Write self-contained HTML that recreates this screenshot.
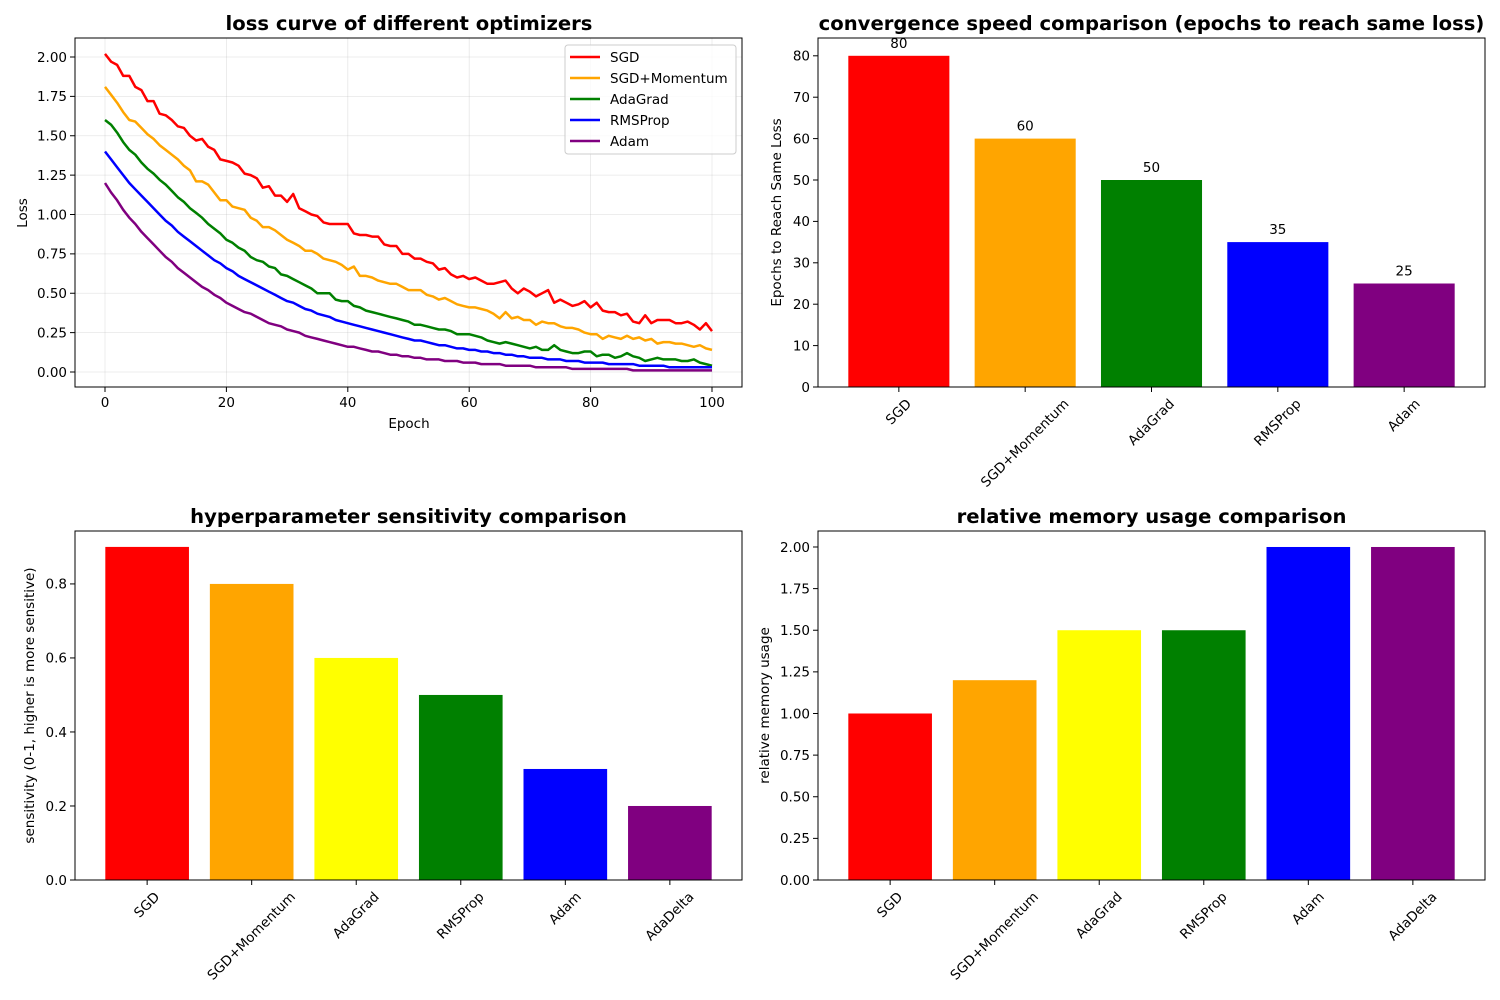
<!DOCTYPE html>
<html><head><meta charset="utf-8"><style>
body{margin:0;background:#fff;}
svg{display:block;font-family:"DejaVu Sans","Liberation Sans",sans-serif;}
</style></head><body>
<svg id="fig" width="1500" height="1000"></svg>
<script>
const lossEpochs = Array.from({length:101},(_, i)=>i);
const lossSGD = [2.02,1.97,1.95,1.88,1.88,1.81,1.79,1.72,1.72,1.64,
1.63,1.60,1.56,1.55,1.50,1.47,1.48,1.43,1.41,1.35,
1.34,1.33,1.31,1.26,1.25,1.23,1.17,1.18,1.12,1.12,
1.08,1.13,1.04,1.02,1.00,0.99,0.95,0.94,0.94,0.94,
0.94,0.88,0.87,0.87,0.86,0.86,0.81,0.80,0.80,0.75,
0.75,0.72,0.72,0.70,0.69,0.65,0.66,0.62,0.60,0.61,
0.59,0.60,0.58,0.56,0.56,0.57,0.58,0.53,0.50,0.53,
0.51,0.48,0.50,0.52,0.44,0.46,0.44,0.42,0.43,0.45,
0.41,0.44,0.39,0.38,0.38,0.36,0.37,0.32,0.31,0.36,
0.31,0.33,0.33,0.33,0.31,0.31,0.32,0.30,0.27,0.31,
0.26];
const lossMomentum = [1.81,1.76,1.71,1.65,1.60,1.59,1.55,1.51,1.48,1.44,
1.41,1.38,1.35,1.31,1.28,1.21,1.21,1.19,1.14,1.09,
1.09,1.05,1.04,1.03,0.98,0.96,0.92,0.92,0.90,0.87,
0.84,0.82,0.80,0.77,0.77,0.75,0.72,0.71,0.70,0.68,
0.65,0.67,0.61,0.61,0.60,0.58,0.57,0.56,0.56,0.54,
0.52,0.52,0.52,0.49,0.48,0.46,0.47,0.45,0.43,0.42,
0.41,0.41,0.40,0.39,0.37,0.34,0.38,0.34,0.35,0.33,
0.33,0.30,0.32,0.31,0.31,0.29,0.28,0.28,0.27,0.25,
0.24,0.24,0.21,0.23,0.22,0.21,0.23,0.21,0.22,0.20,
0.21,0.18,0.19,0.19,0.18,0.18,0.17,0.16,0.17,0.15,
0.14];
const lossAdaGrad = [1.60,1.57,1.52,1.46,1.41,1.38,1.33,1.29,1.26,1.22,
1.19,1.15,1.11,1.08,1.04,1.01,0.98,0.94,0.91,0.88,
0.84,0.82,0.79,0.77,0.73,0.71,0.70,0.67,0.66,0.62,
0.61,0.59,0.57,0.55,0.53,0.50,0.50,0.50,0.46,0.45,
0.45,0.42,0.41,0.39,0.38,0.37,0.36,0.35,0.34,0.33,
0.32,0.30,0.30,0.29,0.28,0.27,0.27,0.26,0.24,0.24,
0.24,0.23,0.22,0.20,0.19,0.18,0.19,0.18,0.17,0.16,
0.15,0.16,0.14,0.14,0.17,0.14,0.13,0.12,0.12,0.13,
0.13,0.10,0.11,0.11,0.09,0.10,0.12,0.10,0.09,0.07,
0.08,0.09,0.08,0.08,0.08,0.07,0.07,0.08,0.06,0.05,
0.04];
const lossRMSProp = [1.40,1.35,1.30,1.25,1.20,1.16,1.12,1.08,1.04,1.00,
0.96,0.93,0.89,0.86,0.83,0.80,0.77,0.74,0.71,0.69,
0.66,0.64,0.61,0.59,0.57,0.55,0.53,0.51,0.49,0.47,
0.45,0.44,0.42,0.40,0.39,0.37,0.36,0.35,0.33,0.32,
0.31,0.30,0.29,0.28,0.27,0.26,0.25,0.24,0.23,0.22,
0.21,0.20,0.20,0.19,0.18,0.17,0.17,0.16,0.15,0.15,
0.14,0.14,0.13,0.13,0.12,0.12,0.11,0.11,0.10,0.10,
0.09,0.09,0.09,0.08,0.08,0.08,0.07,0.07,0.07,0.06,
0.06,0.06,0.06,0.05,0.05,0.05,0.05,0.05,0.04,0.04,
0.04,0.04,0.04,0.03,0.03,0.03,0.03,0.03,0.03,0.03,
0.03];
const lossAdam = [1.20,1.14,1.09,1.03,0.98,0.94,0.89,0.85,0.81,0.77,
0.73,0.70,0.66,0.63,0.60,0.57,0.54,0.52,0.49,0.47,
0.44,0.42,0.40,0.38,0.37,0.35,0.33,0.31,0.30,0.29,
0.27,0.26,0.25,0.23,0.22,0.21,0.20,0.19,0.18,0.17,
0.16,0.16,0.15,0.14,0.13,0.13,0.12,0.11,0.11,0.10,
0.10,0.09,0.09,0.08,0.08,0.08,0.07,0.07,0.07,0.06,
0.06,0.06,0.05,0.05,0.05,0.05,0.04,0.04,0.04,0.04,
0.04,0.03,0.03,0.03,0.03,0.03,0.03,0.02,0.02,0.02,
0.02,0.02,0.02,0.02,0.02,0.02,0.02,0.01,0.01,0.01,
0.01,0.01,0.01,0.01,0.01,0.01,0.01,0.01,0.01,0.01,
0.01];
const lossNames = ["SGD","SGD+Momentum","AdaGrad","RMSProp","Adam"];
const lossColors = ["red","orange","green","blue","purple"];
const lossXTicks = [0,20,40,60,80,100];
const lossYTicks = [0,0.25,0.5,0.75,1,1.25,1.5,1.75,2];

const convCats = ["SGD","SGD+Momentum","AdaGrad","RMSProp","Adam"];
const convValues = [80,60,50,35,25];
const convColors = ["red","orange","green","blue","purple"];
const convYTicks = [0,10,20,30,40,50,60,70,80];

const sensCats = ["SGD","SGD+Momentum","AdaGrad","RMSProp","Adam","AdaDelta"];
const sensValues = [0.9,0.8,0.6,0.5,0.3,0.2];
const sensColors = ["red","orange","yellow","green","blue","purple"];
const sensYTicks = [0,0.2,0.4,0.6,0.8];

const memCats = ["SGD","SGD+Momentum","AdaGrad","RMSProp","Adam","AdaDelta"];
const memValues = [1.0,1.2,1.5,1.5,2.0,2.0];
const memColors = ["red","orange","yellow","green","blue","purple"];
const memYTicks = [0,0.25,0.5,0.75,1,1.25,1.5,1.75,2];

const NS="http://www.w3.org/2000/svg";
const svg=document.getElementById('fig');
function el(tag,attrs,parent,text){const e=document.createElementNS(NS,tag);for(const k in attrs)e.setAttribute(k,attrs[k]);if(text!==undefined)e.textContent=text;(parent||svg).appendChild(e);return e;}
function scale(d0,d1,r0,r1){return v=>r0+(v-d0)/(d1-d0)*(r1-r0);}
const FS=13.5;

function axesFrame(g,L,T,R,B){
  const r=el('rect',{x:L,y:T,width:R-L,height:B-T,fill:'none',stroke:'#000','stroke-width':1},g);
  
  
}
function yTicks(g,ticks,y,L,fmt,grid,R){
  ticks.forEach(t=>{
    const py=y(t);
    if(grid){const gl=el('line',{x1:L,x2:R,y1:py,y2:py,stroke:'#b0b0b0','stroke-opacity':0.3,'stroke-width':0.8},g);}
    el('line',{x1:L-5,x2:L,y1:py,y2:py,stroke:'#000'},g);
    const tx=el('text',{x:L-8,y:py+4.8,'text-anchor':'end','font-size':FS},g,fmt(t));
    
    
  });
}
function title(g,x,y,s){const t=el('text',{x:x,y:y,'text-anchor':'middle','font-size':19.6,'font-weight':'bold'},g,s);}
function ylabel(g,x,y,s){const t=el('text',{x:x,y:y,'text-anchor':'middle','font-size':FS,transform:`rotate(-90 ${x} ${y})`},g,s);}
function rotLabel(g,cx,top,s){
  const t=el('text',{x:cx,y:0,'text-anchor':'middle','font-size':FS,'dominant-baseline':'central'},g,s);
  
  
  const w=t.getComputedTextLength(),h=FS;
  const cy=top+(w+h)*0.7071/2;
  t.setAttribute('y',cy);
  t.setAttribute('transform',`rotate(-45 ${cx} ${cy})`);
}

// Panel 1: loss curves
(function(){
  const L=75,T=38,R=742,B=387;
  const g=el('g',{});
  const x=scale(0,100,105,712), y=scale(0,2,372,57);
  lossXTicks.forEach(t=>{const px=x(t);
    const gl=el('line',{x1:px,x2:px,y1:T,y2:B,stroke:'#b0b0b0','stroke-opacity':0.3,'stroke-width':0.8},g);
    el('line',{x1:px,x2:px,y1:B,y2:B+5,stroke:'#000'},g);
    const tx=el('text',{x:px,y:B+20,'text-anchor':'middle','font-size':FS},g,String(t));
  });
  yTicks(g,lossYTicks,y,L,v=>v.toFixed(2),true,R);
  const series=[lossSGD,lossMomentum,lossAdaGrad,lossRMSProp,lossAdam];
  series.forEach((s,i)=>{
    const d=s.map((v,j)=>(j?'L':'M')+x(lossEpochs[j]).toFixed(1)+','+y(v).toFixed(1)).join('');
    const p=el('path',{d:d,fill:'none',stroke:lossColors[i],'stroke-width':2.5,'stroke-linejoin':'round'},g);
    
    
  });
  axesFrame(g,L,T,R,B);
  const lg=el('g',{},g);
  el('rect',{x:565,y:45,width:171,height:109,rx:3,fill:'#fff','fill-opacity':0.8,stroke:'#ccc'},lg);
  lossNames.forEach((n,i)=>{const yy=57+i*21;
    el('line',{x1:570,x2:600,y1:yy,y2:yy,stroke:lossColors[i],'stroke-width':2.5},lg);
    const t=el('text',{x:610,y:yy+4.8,'font-size':FS},lg,n);
  });
  title(g,409,30,'loss curve of different optimizers');
  const xl=el('text',{x:409,y:428,'text-anchor':'middle','font-size':FS},g,'Epoch');
  ylabel(g,27,213,'Loss');
})();

function barPanel(name,L,T,R,B,cats,vals,colors,ymax,ticks,fmt,titleS,ylab,ylx,showVals){
  const g=el('g',{});
  const n=cats.length, y=scale(0,ymax,B,T);
  const span=(n-1)+0.8, total=span*1.1;
  const step=(R-L)/total;
  const first=L+(0.4+0.05*span)*step;
  yTicks(g,ticks,y,L,fmt,false,R);
  cats.forEach((c,i)=>{
    const cx=first+i*step, w=step*0.8;
    const b=el('rect',{x:cx-w/2,y:y(vals[i]),width:w,height:B-y(vals[i]),fill:colors[i]},g);
    
    
    el('line',{x1:cx,x2:cx,y1:B,y2:B+5,stroke:'#000'},g);
    rotLabel(g,cx,B+10,c);
    if(showVals){const t=el('text',{x:cx,y:y(vals[i])-8,'text-anchor':'middle','font-size':FS},g,String(vals[i]));}
  });
  axesFrame(g,L,T,R,B);
  title(g,(L+R)/2,titleS[1],titleS[0]);
  ylabel(g,ylx,(T+B)/2,ylab);
}
barPanel('convergence-speed-chart',818,38,1485,387,convCats,convValues,convColors,84.3,convYTicks,v=>String(v),['convergence speed comparison (epochs to reach same loss)',30],'Epochs to Reach Same Loss',781,true);
barPanel('sensitivity-chart',75,531,742,880,sensCats,sensValues,sensColors,0.943,sensYTicks,v=>v.toFixed(1),['hyperparameter sensitivity comparison',523],'sensitivity (0-1, higher is more sensitive)',34,false);
barPanel('memory-usage-chart',818,531,1485,880,memCats,memValues,memColors,2.096,memYTicks,v=>v.toFixed(2),['relative memory usage comparison',523],'relative memory usage',769,false);
</script>
</body></html>
